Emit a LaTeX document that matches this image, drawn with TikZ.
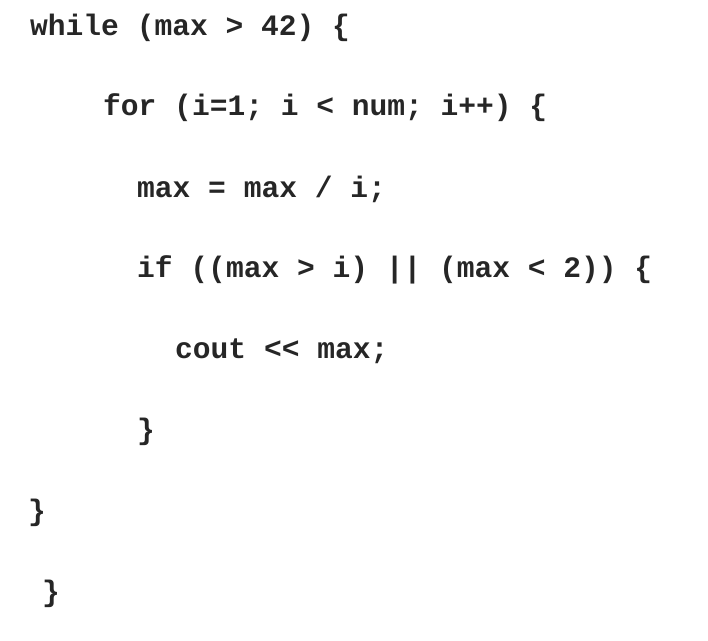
\documentclass[tikz,border=0pt]{standalone}
\usepackage{fontspec}
\setmonofont{Liberation Mono}
\begin{document}
\begin{tikzpicture}[x=1pt,y=-1pt,code/.style={anchor=west,inner sep=0pt,font=\ttfamily\bfseries\fontsize{29.6}{30}\selectfont,text=black!85}]
\useasboundingbox (0,0) rectangle (708,640);
\node[code] (l1) at (30,28) {while (max > 42) \{};
\node[code] (l2) at (103,108) {for (i=1; i < num; i++) \{};
\node[code] (l3) at (137,189) {max = max / i;};
\node[code] (l4) at (137,270) {if ((max > i) || (max < 2)) \{};
\node[code] (l5) at (175,351) {cout << max;};
\node[code] (l6) at (137,432) {\}};
\node[code] (l7) at (28,513) {\}};
\node[code] (l8) at (42,594) {\}};
\end{tikzpicture}
\end{document}
